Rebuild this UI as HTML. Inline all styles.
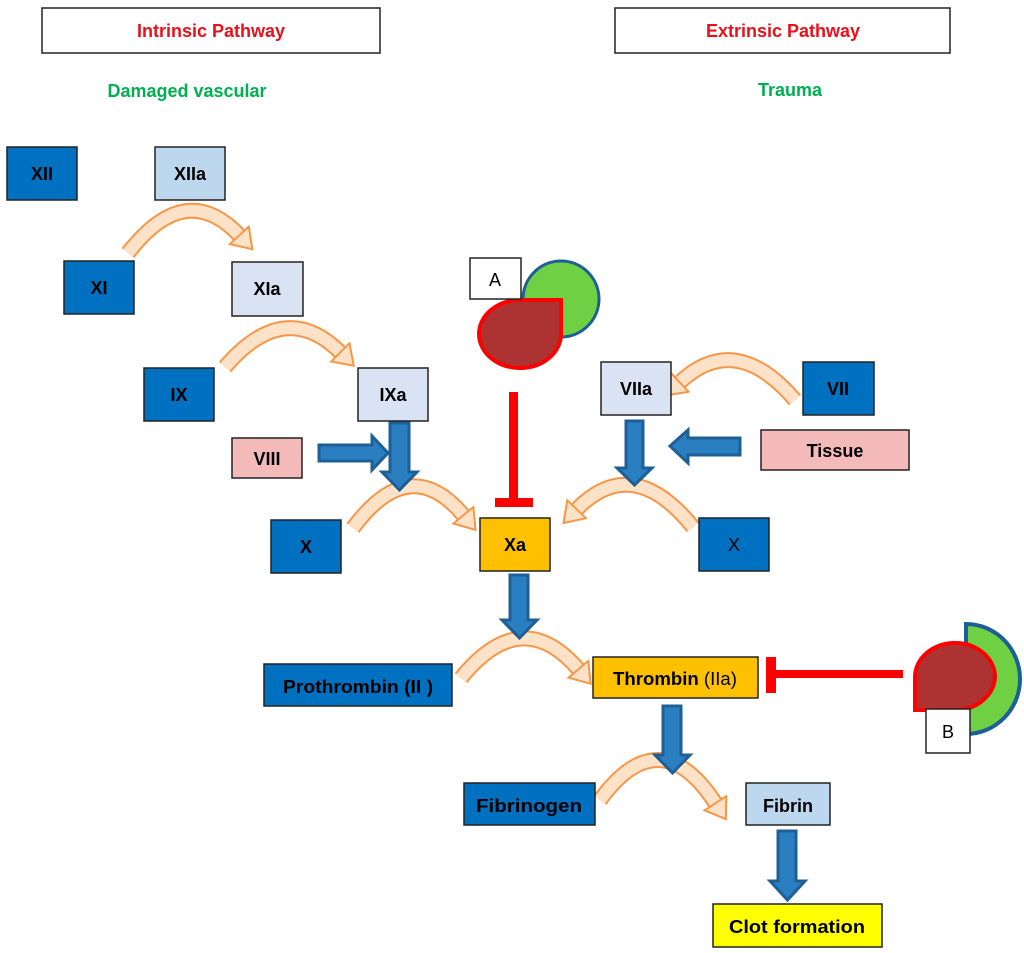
<!DOCTYPE html>
<html><head><meta charset="utf-8"><style>
html,body{margin:0;padding:0;background:#fff;}
svg{display:block;}
text{font-family:"Liberation Sans",sans-serif;}
</style></head><body>
<svg width="1024" height="953" viewBox="0 0 1024 953" xmlns="http://www.w3.org/2000/svg">
<defs>
<marker id="ah" markerUnits="userSpaceOnUse" markerWidth="26" markerHeight="30" refX="2" refY="14" orient="auto">
<polygon points="1,1 20,14 1,27" fill="#fde2c8" stroke="#f79646" stroke-width="2"/>
</marker>
</defs>
<rect x="42" y="8" width="338" height="45" fill="#fff" stroke="#222" stroke-width="1.5"/>
<text x="211" y="37" text-anchor="middle" font-size="18" font-weight="bold" fill="#e8101a">Intrinsic Pathway</text>
<rect x="615" y="8" width="335" height="45" fill="#fff" stroke="#222" stroke-width="1.5"/>
<text x="783" y="37" text-anchor="middle" font-size="18" font-weight="bold" fill="#e8101a">Extrinsic Pathway</text>
<text x="187" y="97" text-anchor="middle" font-size="18" font-weight="bold" fill="#00b050">Damaged vascular</text>
<text x="790" y="96" text-anchor="middle" font-size="18" font-weight="bold" fill="#00b050">Trauma</text>

<g fill="none" stroke-linecap="butt">
<g stroke="#f79646" stroke-width="16">
<path d="M128,253 Q186,178 240,236"/>
<path d="M225,367 Q285,297 341,353"/>
<path d="M353,528 Q410,451 464,516"/>
<path d="M693,527 Q632,452 576,510"/>
<path d="M795,400 Q735,330 679,383"/>
<path d="M461,678 Q522,603 579,670"/>
<path d="M600,800 Q660,718 716,804"/>
</g>
<g stroke="#fde2c8" stroke-width="12" marker-end="url(#ah)">
<path d="M128,253 Q186,178 240,236"/>
<path d="M225,367 Q285,297 341,353"/>
<path d="M353,528 Q410,451 464,516"/>
<path d="M693,527 Q632,452 576,510"/>
<path d="M795,400 Q735,330 679,383"/>
<path d="M461,678 Q522,603 579,670"/>
<path d="M600,800 Q660,718 716,804"/>
</g>
</g>

<g fill="#2a7fc1" stroke="#1d5f96" stroke-width="3" stroke-linejoin="miter">
<polygon points="390,423 409,423 409,472 417,472 399.5,490 382,472 390,472"/>
<polygon points="319,445 372,445 372,436 388,453 372,470 372,461 319,461"/>
<polygon points="626,421 643,421 643,468 652,468 634.5,485 617,468 626,468"/>
<polygon points="740,438 688,438 688,430 670,446 688,463 688,455 740,455"/>
<polygon points="510,575 528,575 528,620 537,620 519.5,638 502,620 510,620"/>
<polygon points="663,706 681,706 681,755 690,755 672.5,773 655,755 663,755"/>
<polygon points="778,831 796,831 796,881 805,881 787.5,900 770,881 778,881"/>
</g>

<g stroke="#222" stroke-width="1.5">
<rect x="7" y="147" width="70" height="53" fill="#0070c0"/>
<rect x="155" y="147" width="70" height="53" fill="#bdd7ee"/>
<rect x="64" y="261" width="70" height="53" fill="#0070c0"/>
<rect x="232" y="262" width="71" height="54" fill="#dae3f3"/>
<rect x="144" y="368" width="70" height="53" fill="#0070c0"/>
<rect x="358" y="368" width="70" height="53" fill="#dae3f3"/>
<rect x="232" y="438" width="70" height="40" fill="#f4b9b9"/>
<rect x="271" y="520" width="70" height="53" fill="#0070c0"/>
<rect x="480" y="518" width="70" height="53" fill="#ffc000"/>
<rect x="699" y="518" width="70" height="53" fill="#0070c0"/>
<rect x="601" y="362" width="70" height="53" fill="#dae3f3"/>
<rect x="803" y="362" width="71" height="53" fill="#0070c0"/>
<rect x="761" y="430" width="148" height="40" fill="#f4b9b9"/>
<rect x="264" y="664" width="188" height="42" fill="#0070c0"/>
<rect x="593" y="657" width="165" height="41" fill="#ffc000"/>
<rect x="464" y="783" width="131" height="42" fill="#0070c0"/>
<rect x="746" y="783" width="84" height="42" fill="#bdd7ee"/>
<rect x="713" y="904" width="169" height="43" fill="#ffff00"/>
</g>
<g font-size="18" font-weight="bold" fill="#000" text-anchor="middle">
<text x="42" y="180">XII</text>
<text x="190" y="180">XIIa</text>
<text x="99" y="294">XI</text>
<text x="267" y="295">XIa</text>
<text x="179" y="401">IX</text>
<text x="393" y="401">IXa</text>
<text x="267" y="465">VIII</text>
<text x="306" y="553">X</text>
<text x="515" y="551">Xa</text>
<text x="636" y="395">VIIa</text>
<text x="838" y="395">VII</text>
<text x="835" y="457">Tissue</text>
<text x="358" y="693" textLength="150" lengthAdjust="spacingAndGlyphs">Prothrombin (II )</text>
<text x="529" y="812" textLength="106" lengthAdjust="spacingAndGlyphs">Fibrinogen</text>
<text x="788" y="812">Fibrin</text>
<text x="797" y="933" textLength="136" lengthAdjust="spacingAndGlyphs">Clot formation</text>
<text x="675" y="685" textLength="124" lengthAdjust="spacingAndGlyphs">Thrombin <tspan font-weight="normal">(IIa)</tspan></text>
</g>
<text x="734" y="551" font-size="18" text-anchor="middle" fill="#000">X</text>

<g fill="#ff0000">
<rect x="509" y="392" width="9" height="111"/>
<rect x="495" y="498" width="38" height="9"/>
<rect x="766" y="657" width="10" height="36"/>
<rect x="776" y="670" width="127" height="8"/>
</g>

<circle cx="561" cy="299" r="38" fill="#70d044" stroke="#1d5f96" stroke-width="3"/>
<path d="M561,300 L561,334 A41,34 0 0 1 520,368 A41,34 0 0 1 479,334 A41,34 0 0 1 520,300 Z" fill="#ad3232" stroke="#ff0000" stroke-width="4"/>
<rect x="470" y="258" width="51" height="41" fill="#fff" stroke="#222" stroke-width="1.5"/>
<text x="495" y="286" font-size="18" text-anchor="middle">A</text>

<path d="M966,624 A54,55 0 0 1 966,734 Z" fill="#70d044" stroke="#1d5f96" stroke-width="4"/>
<path d="M915,710 L915,677 A40,34 0 0 1 955,643 A40,34 0 0 1 995,677 A40,34 0 0 1 955,710 Z" fill="#ad3232" stroke="#ff0000" stroke-width="4"/>
<rect x="926" y="709" width="44" height="44" fill="#fff" stroke="#222" stroke-width="1.5"/>
<text x="948" y="738" font-size="18" text-anchor="middle">B</text>
</svg>
</body></html>
